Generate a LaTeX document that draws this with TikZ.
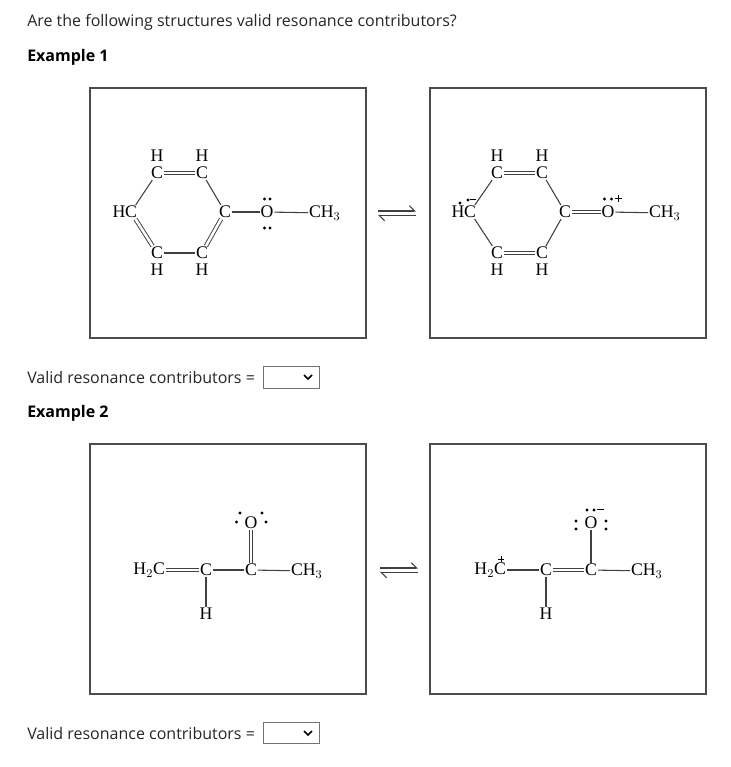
\documentclass[tikz,border=0pt]{standalone}
\usepackage{fontspec}
\setmainfont{Liberation Serif}
\newfontfamily\osans{Open Sans}
\usetikzlibrary{arrows.meta}
\begin{document}
\begin{tikzpicture}[x=0.75pt,y=-0.75pt,
  atm/.style={inner sep=0.6pt,font=\fontsize{13.3pt}{14pt}\selectfont},
  bd/.style={line width=0.8pt,draw=black!75},
  dbl/.style={line width=0.7pt,double=white,double distance=1.9pt,draw=black!75},
  panel/.style={draw=black!70,line width=0.8pt},
  txt/.style={anchor=west,inner sep=0,font=\osans\fontsize{12pt}{14pt}\selectfont,text=black!85},
  hd/.style={anchor=west,inner sep=0,font=\osans\bfseries\fontsize{12pt}{14pt}\selectfont},
  dot/.style={circle,fill=black,inner sep=0,minimum size=2.4pt},
  ddbox/.style={draw=black!55,line width=0.6pt,minimum width=42pt,minimum height=16pt,inner sep=0}]
\useasboundingbox (0,0) rectangle (731,767);
\fill[white] (0,0) rectangle (731,767);
\node[txt] (t1) at (27,22) {Are the following structures valid resonance contributors?};
\node[hd] (e1) at (27,57) {Example 1};
\node[txt] (v1) at (27,377) {Valid resonance contributors =};
\node[hd] (e2) at (27,413) {Example 2};
\node[txt] (v2) at (27,733) {Valid resonance contributors =};
\node[ddbox] (d1) at (291,377.5) {};
\node[ddbox] (d2) at (291,733) {};
\draw[line width=1.2pt] (304,375) -- (308,379) -- (312,375);
\draw[line width=1.2pt] (304,731) -- (308,735) -- (312,731);
\node[panel,minimum width=207pt,minimum height=187.5pt] (p1) at (228,213) {};
\node[panel,minimum width=207pt,minimum height=187.5pt] (p2) at (568,213) {};
\node[panel,minimum width=207pt,minimum height=187.5pt] (p3) at (228,569) {};
\node[panel,minimum width=207pt,minimum height=187.5pt] (p4) at (568,569) {};
% ---- structure 1
\node[atm] (a1) at (157,173) {C}; \node[atm] (a2) at (202,173) {C};
\node[atm] (h1) at (157,156) {H}; \node[atm] (h2) at (202,156) {H};
\node[atm] (a3) at (131,212) {C}; \node[atm,anchor=east] (h3) at (126.5,212) {H};
\node[atm] (a4) at (225,212) {C};
\node[atm] (o1) at (267,212) {O};
\node[atm,anchor=west] (m1) at (308,213) {CH$_3$};
\node[atm] (a5) at (157,253) {C}; \node[atm] (a6) at (202,253) {C};
\node[atm] (h5) at (157,270) {H}; \node[atm] (h6) at (202,270) {H};
\draw[dbl] (a1) -- (a2); \draw[bd] (a2) -- (a4); \draw[bd] (a1) -- (a3);
\draw[dbl] (a3) -- (a5); \draw[bd] (a5) -- (a6); \draw[dbl] (a6) -- (a4);
\draw[bd] (a4) -- (o1); \draw[bd] (o1) -- (m1);
\node[dot] at (264.5,199) {}; \node[dot] at (270,199) {};
\node[dot] at (264.5,228) {}; \node[dot] at (270,228) {};
% equilibrium arrows
\coordinate (q1) at (378,211); \coordinate (q2) at (416,211);
\coordinate (q3) at (378,215.5); \coordinate (q4) at (416,215.5);
\draw[bd,-{Straight Barb[left,length=4pt]}] (q1) -- (q2);
\draw[bd,-{Straight Barb[left,length=4pt]}] (q4) -- (q3);
\coordinate (q5) at (380,568); \coordinate (q6) at (418,568);
\coordinate (q7) at (380,572.5); \coordinate (q8) at (418,572.5);
\draw[bd,-{Straight Barb[left,length=4pt]}] (q5) -- (q6);
\draw[bd,-{Straight Barb[left,length=4pt]}] (q8) -- (q7);
% ---- structure 2
\node[atm] (b1) at (497,173) {C}; \node[atm] (b2) at (542,173) {C};
\node[atm] (g1) at (497,156) {H}; \node[atm] (g2) at (542,156) {H};
\node[atm] (b3) at (470,212) {C}; \node[atm,anchor=east] (g3) at (465.5,212) {H};
\node[atm] (b4) at (565,212) {C};
\node[atm] (o2) at (608,212) {O};
\node[atm,anchor=west] (m2) at (648,213) {CH$_3$};
\node[atm] (b5) at (497,253) {C}; \node[atm] (b6) at (542,253) {C};
\node[atm] (g5) at (497,270) {H}; \node[atm] (g6) at (542,270) {H};
\draw[dbl] (b1) -- (b2); \draw[bd] (b2) -- (b4); \draw[bd] (b1) -- (b3);
\draw[bd] (b3) -- (b5); \draw[dbl] (b5) -- (b6); \draw[bd] (b6) -- (b4);
\draw[dbl] (b4) -- (o2); \draw[bd] (o2) -- (m2);
\node[dot] at (460,203) {}; \node[dot] at (468,200) {};
\draw[line width=0.6pt] (470,199) -- (476,199);
\node[dot] at (604.5,199) {}; \node[dot] at (611.5,199) {};
\draw[line width=0.6pt] (615,198) -- (622,198); \draw[line width=0.6pt] (618.5,194.5) -- (618.5,201.5);
% ---- structure 3
\node[atm,anchor=east] (c1) at (166,570) {H$_2$C};
\node[atm] (c2) at (206,570) {C};
\node[atm] (c3) at (251,570) {C};
\node[atm,anchor=west] (m3) at (290,571) {CH$_3$};
\node[atm] (o3) at (251,523) {O};
\node[atm] (k1) at (206,614) {H};
\draw[dbl] (c1) -- (c2); \draw[bd] (c2) -- (c3); \draw[bd] (c3) -- (m3);
\draw[dbl] (c3) -- (o3); \draw[bd] (c2) -- (k1);
\node[dot] at (236.5,522) {}; \node[dot] at (240,513) {};
\node[dot] at (262,513) {}; \node[dot] at (266,522) {};
% ---- structure 4
\node[atm,anchor=east] (f1) at (507,570) {H$_2$C};
\node[atm] (f2) at (546,570) {C};
\node[atm] (f3) at (591,570) {C};
\node[atm,anchor=west] (m4) at (630,571) {CH$_3$};
\node[atm] (o4) at (591,523) {O};
\node[atm] (k2) at (546,614) {H};
\draw[bd] (f1) -- (f2); \draw[dbl] (f2) -- (f3); \draw[bd] (f3) -- (m4);
\draw[bd] (f3) -- (o4); \draw[bd] (f2) -- (k2);
\node[dot] at (576,521) {}; \node[dot] at (576,529) {};
\node[dot] at (606,521) {}; \node[dot] at (606,529) {};
\node[dot] at (587,510) {}; \node[dot] at (594,510) {};
\draw[line width=0.6pt] (597,509.5) -- (604,509.5);
\draw[line width=0.6pt] (498,559) -- (504,559); \draw[line width=0.6pt] (501,556) -- (501,562);
\end{tikzpicture}
\end{document}
